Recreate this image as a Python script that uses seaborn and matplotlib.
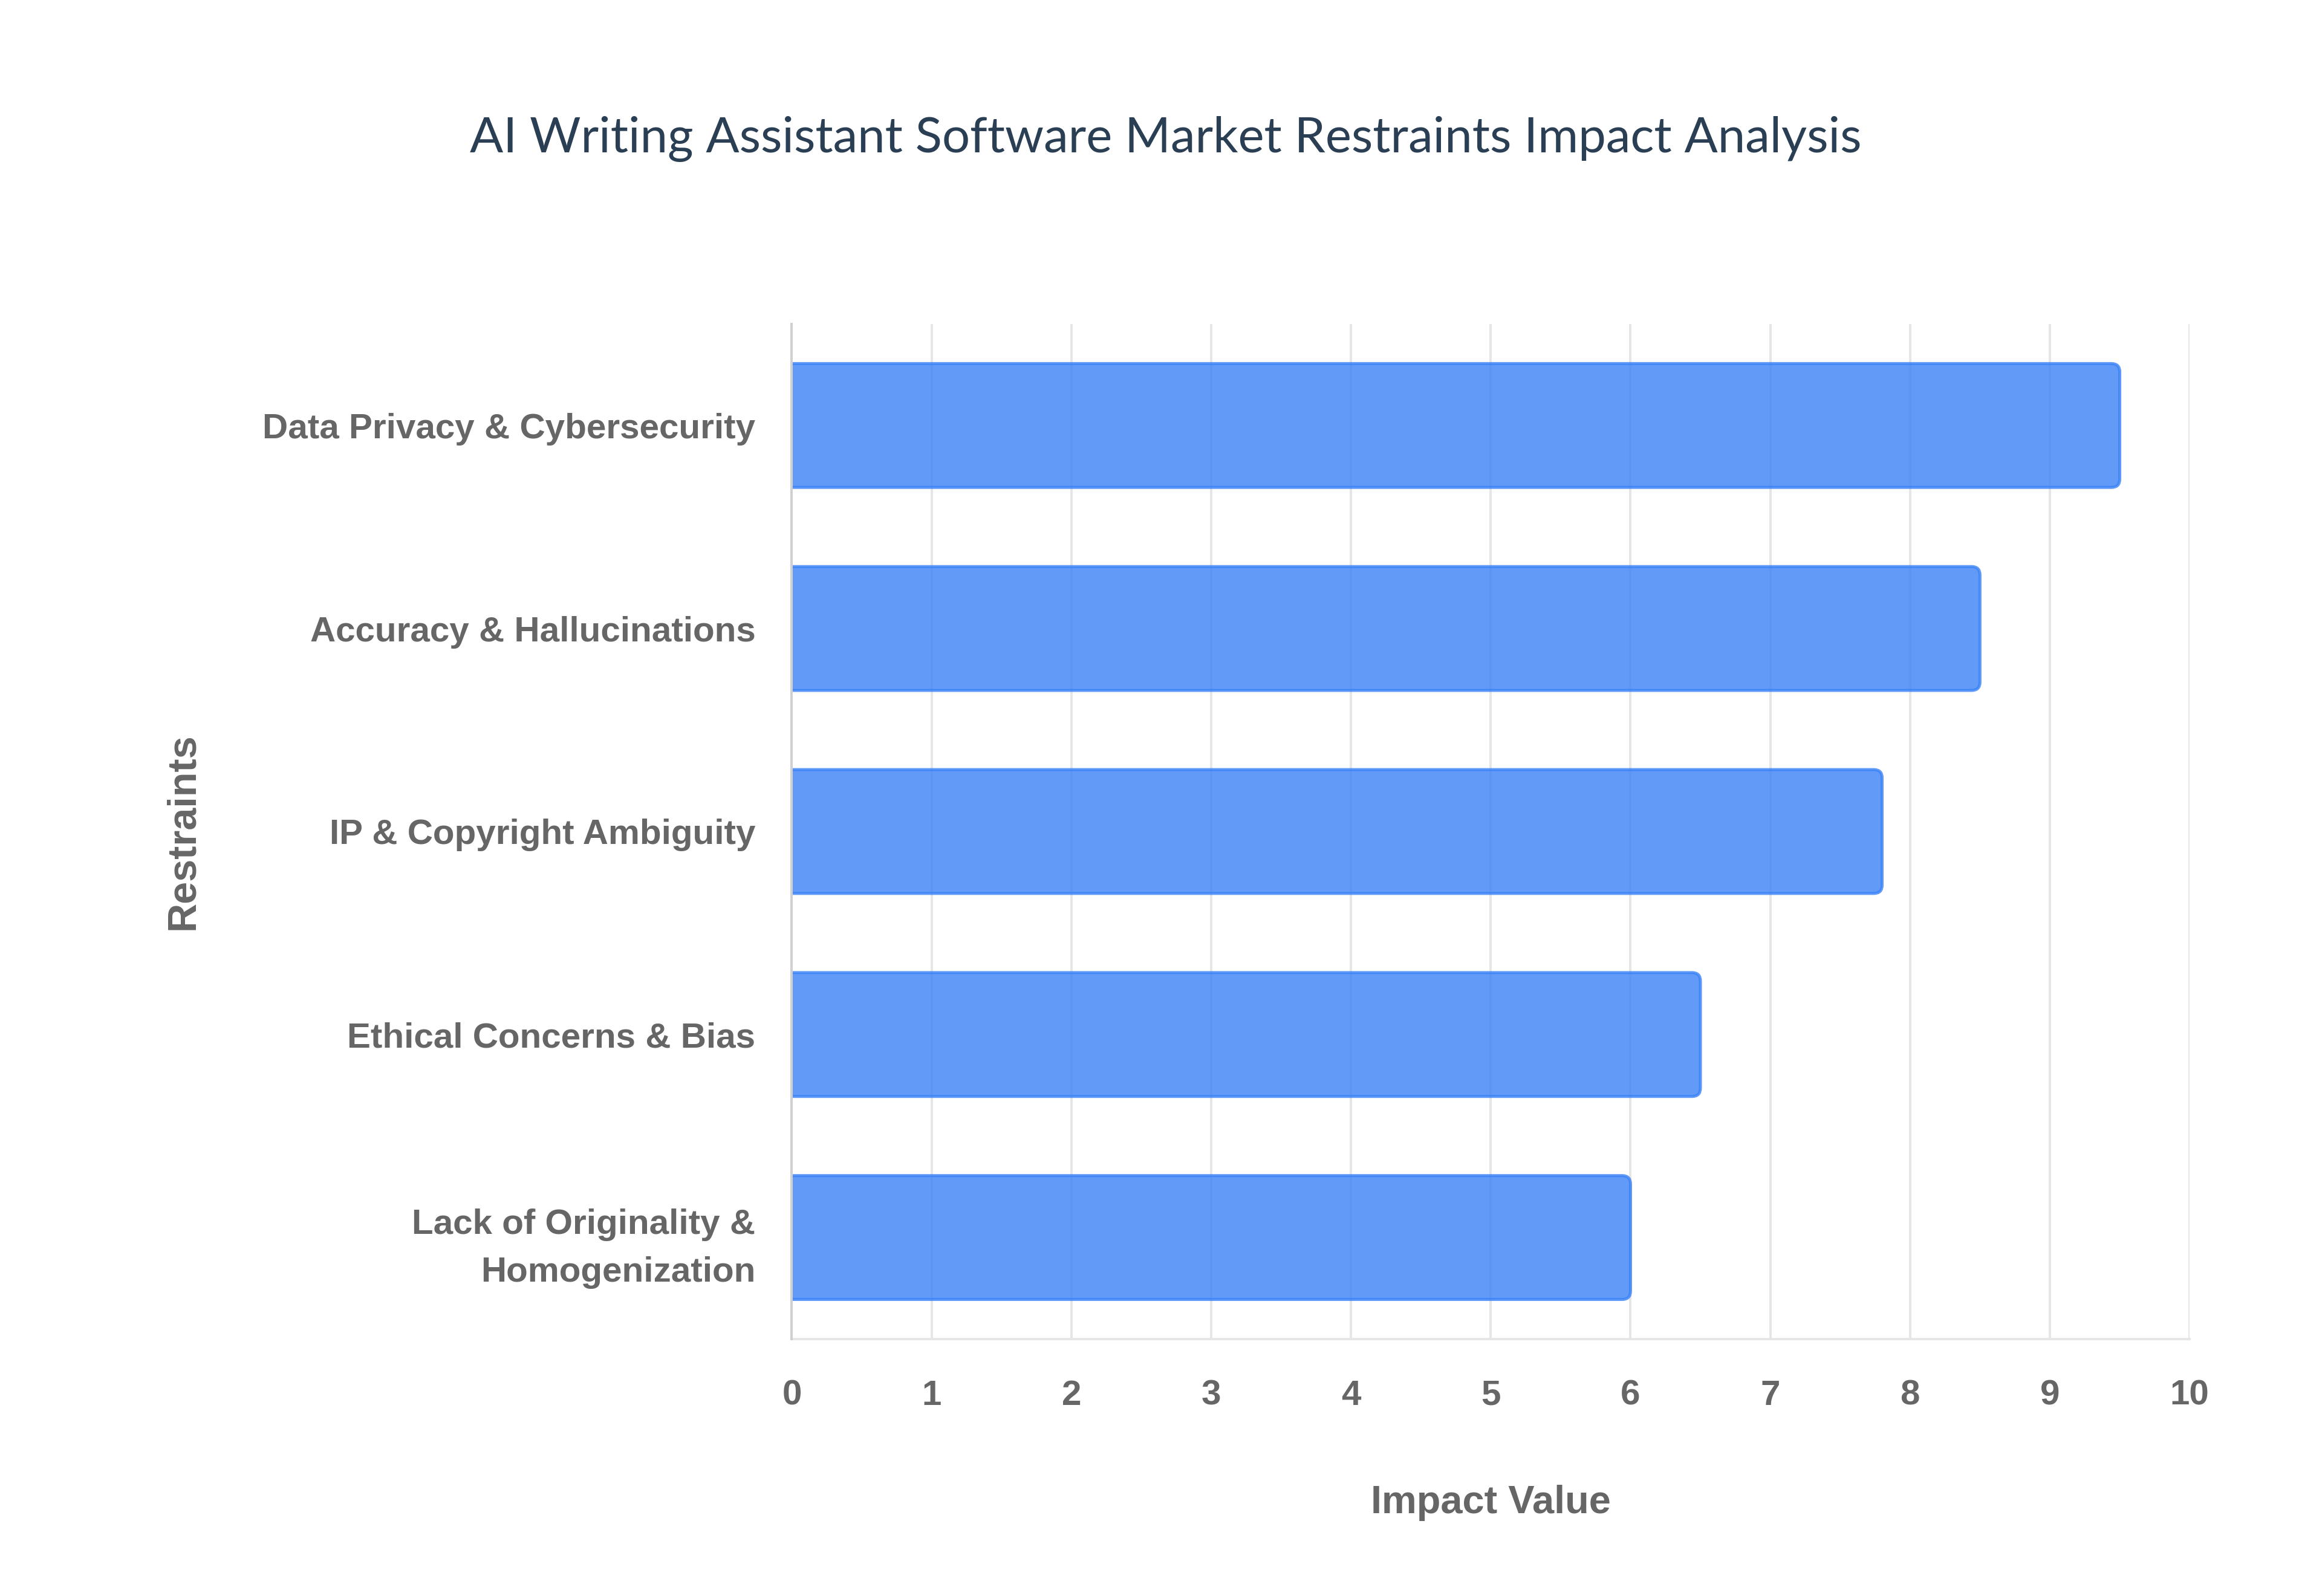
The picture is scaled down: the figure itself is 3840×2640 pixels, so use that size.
import matplotlib
matplotlib.use("Agg")
import matplotlib.pyplot as plt
from matplotlib.patches import FancyBboxPatch
import seaborn as sns
import pandas as pd

restraints = [
    "Data Privacy & Cybersecurity",
    "Accuracy & Hallucinations",
    "IP & Copyright Ambiguity",
    "Ethical Concerns & Bias",
    "Lack of Originality &\nHomogenization",
]
impact = [9.5, 8.5, 7.8, 6.5, 6.0]
x_ticks = [0, 1, 2, 3, 4, 5, 6, 7, 8, 9, 10]

df = pd.DataFrame({"restraint": restraints, "impact": impact})

sns.set_style("white")
plt.rcParams["font.family"] = ["Liberation Sans", "DejaVu Sans"]

fig = plt.figure(figsize=(16, 11), dpi=240)
ax = fig.add_axes([0.341, 0.161, 0.602, 0.636])

sns.barplot(data=df, x="impact", y="restraint", orient="h", ax=ax,
            color="#3b82f6", saturation=1, width=0.61)

ax.set_xlim(0, 10)
ax.set_ylim(4.5, -0.5)

# bars with slightly rounded ends (left end hidden behind the axis)
r = 0.06
for p in list(ax.patches):
    x0, y0 = p.get_x(), p.get_y()
    w, h = p.get_width(), p.get_height()
    if h < 0:
        y0, h = y0 + h, -h
    rb = FancyBboxPatch((x0 - 2 * r, y0), w + 2 * r, h,
                        boxstyle=f"round,pad=0,rounding_size={r}",
                        mutation_aspect=0.69,
                        facecolor="#3b82f6", alpha=0.8,
                        edgecolor="#3b82f6", linewidth=1.5, zorder=3)
    p.remove()
    ax.add_patch(rb)

ax.set_xticks(x_ticks)
ax.set_xticklabels([str(t) for t in x_ticks])

ax.set_axisbelow(True)
ax.grid(axis="x", color="#e6e6e6", linewidth=1.2)
ax.grid(axis="y", visible=False)

for side in ["top", "right"]:
    ax.spines[side].set_visible(False)
ax.spines["left"].set_color("#d0d0d0")
ax.spines["left"].set_linewidth(1.2)
ax.spines["left"].set_zorder(4)
ax.spines["bottom"].set_color("#e6e6e6")
ax.spines["bottom"].set_linewidth(1.2)

ax.tick_params(axis="both", length=0, labelsize=17.5, labelcolor="#666666")
ax.tick_params(axis="x", pad=20)
ax.tick_params(axis="y", pad=18)
for lbl in ax.get_xticklabels() + ax.get_yticklabels():
    lbl.set_fontweight("bold")
    lbl.set_linespacing(1.6)

ax.set_xlabel("Impact Value", fontsize=19.5, fontweight="bold", color="#666666", labelpad=36)
ax.set_ylabel("")
fig.text(0.079, 0.479, "Restraints", rotation=90, fontsize=20,
         fontweight="bold", color="#666666", ha="center", va="center")

fig.text(0.502, 0.913, "AI Writing Assistant Software Market Restraints Impact Analysis",
         fontsize=24.5, color="#2a3f54", ha="center", va="center",
         family=["Lato", "DejaVu Sans"])

fig.savefig("out.png", dpi=240, facecolor="white")
